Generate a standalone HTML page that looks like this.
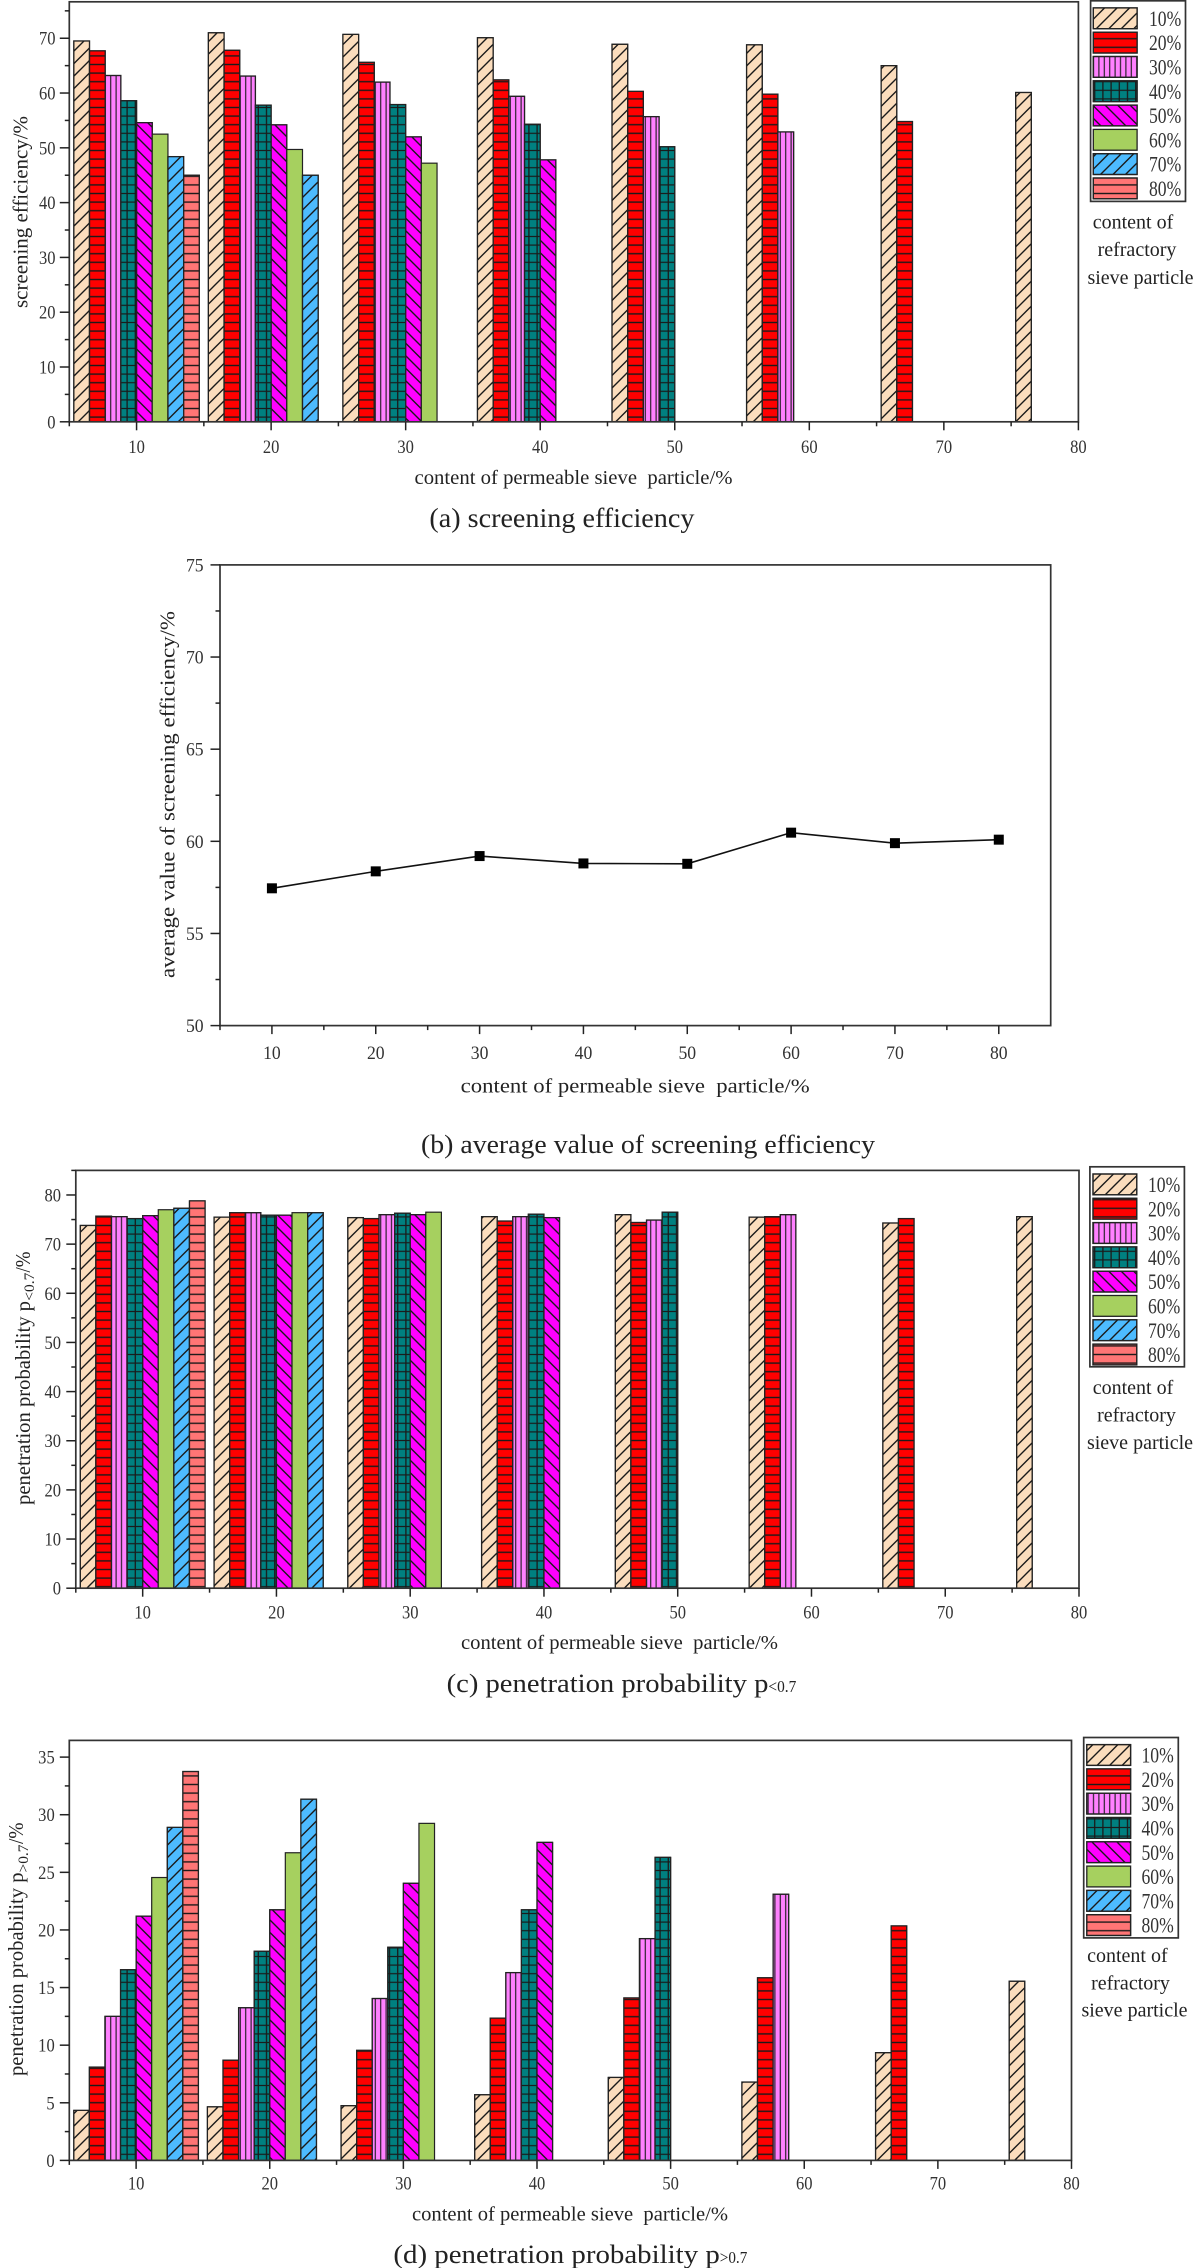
<!DOCTYPE html>
<html lang="en">
<head>
<meta charset="utf-8">
<title>Screening efficiency and penetration probability charts</title>
<style>
html,body{margin:0;padding:0;background:#fff;width:1200px;height:2268px;overflow:hidden}
svg{display:block}
text{font-family:"Liberation Serif","Noto Serif CJK SC",serif;fill:#222;white-space:pre}
.tick{fill:#333}
</style>
</head>
<body>
<svg id="figure" xmlns="http://www.w3.org/2000/svg" width="1200" height="2268" viewBox="0 0 1200 2268">
<defs>
<pattern id="slash" patternUnits="userSpaceOnUse" width="12.5" height="12.5"><path d="M-2,2L2,-2M0,12.5L12.5,0M10.5,14.5L14.5,10.5" stroke="#1a1a1a" stroke-width="1.4" fill="none"/></pattern>
<pattern id="back" patternUnits="userSpaceOnUse" width="12.5" height="12.5"><path d="M-2,10.5L2,14.5M0,0L12.5,12.5M10.5,-2L14.5,2" stroke="#1a1a1a" stroke-width="1.4" fill="none"/></pattern>
<pattern id="hlines" patternUnits="userSpaceOnUse" width="8.6" height="8.6"><path d="M0,4.3H8.6" stroke="#1a1a1a" stroke-width="1.4" fill="none"/></pattern>
<pattern id="vlines" patternUnits="userSpaceOnUse" width="5.4" height="5.4"><path d="M2.7,0V5.4" stroke="#1a1a1a" stroke-width="1.1" fill="none"/></pattern>
<pattern id="grid" patternUnits="userSpaceOnUse" width="8.2" height="8.6"><path d="M0,4.3H8.2M4.1,0V8.6" stroke="#1a1a1a" stroke-width="1.3" fill="none"/></pattern>
</defs>

<g id="chart-a"></g>
<g id="chart-b"></g>
<g id="chart-c"></g>
<g id="chart-d"></g>

<text transform="translate(27.5,308) rotate(-90)" font-size="21" textLength="192" lengthAdjust="spacingAndGlyphs">screening efficiency/%</text>
<text x="414.5" y="484" font-size="20" textLength="318" lengthAdjust="spacingAndGlyphs">content of permeable sieve  particle/%</text>
<text x="429.4" y="526.8" font-size="27" textLength="265" lengthAdjust="spacingAndGlyphs">(a) screening efficiency</text>
<text x="1133" y="228.6" font-size="20" text-anchor="middle">content of</text>
<text x="1137" y="256" font-size="20" text-anchor="middle">refractory</text>
<text x="1140.5" y="284" font-size="20" text-anchor="middle">sieve particle</text>

<text transform="translate(174.5,978) rotate(-90)" font-size="21" textLength="367" lengthAdjust="spacingAndGlyphs">average value of screening efficiency/%</text>
<text x="460.7" y="1092.4" font-size="20" textLength="349" lengthAdjust="spacingAndGlyphs">content of permeable sieve  particle/%</text>
<text x="421" y="1152.9" font-size="26" textLength="454" lengthAdjust="spacingAndGlyphs">(b) average value of screening efficiency</text>

<text transform="translate(30,1505) rotate(-90)" font-size="21" textLength="204" lengthAdjust="spacingAndGlyphs">penetration probability p</text>
<text transform="translate(34,1300.7) rotate(-90)" font-size="15" textLength="28" lengthAdjust="spacingAndGlyphs">&lt;0.7</text>
<text transform="translate(30,1272.5) rotate(-90)" font-size="21" textLength="21" lengthAdjust="spacingAndGlyphs">/%</text>
<text x="461" y="1649" font-size="20" textLength="317" lengthAdjust="spacingAndGlyphs">content of permeable sieve  particle/%</text>
<text x="446.6" y="1691.8" font-size="26" textLength="321.8" lengthAdjust="spacingAndGlyphs">(c) penetration probability p</text>
<text x="768.4" y="1691.8" font-size="17" textLength="27.9" lengthAdjust="spacingAndGlyphs">&lt;0.7</text>
<text x="1133" y="1394" font-size="20" text-anchor="middle">content of</text>
<text x="1136.5" y="1421.4" font-size="20" text-anchor="middle">refractory</text>
<text x="1140" y="1449" font-size="20" text-anchor="middle">sieve particle</text>

<text transform="translate(23,2076) rotate(-90)" font-size="21" textLength="203.5" lengthAdjust="spacingAndGlyphs">penetration probability p</text>
<text transform="translate(28,1872.5) rotate(-90)" font-size="15" textLength="28" lengthAdjust="spacingAndGlyphs">&gt;0.7</text>
<text transform="translate(23,1844) rotate(-90)" font-size="21" textLength="21.5" lengthAdjust="spacingAndGlyphs">/%</text>
<text x="412" y="2220.7" font-size="20" textLength="316" lengthAdjust="spacingAndGlyphs">content of permeable sieve  particle/%</text>
<text x="393.4" y="2262.9" font-size="26" textLength="326.4" lengthAdjust="spacingAndGlyphs">(d) penetration probability p</text>
<text x="719.8" y="2262.9" font-size="17" textLength="27.5" lengthAdjust="spacingAndGlyphs">&gt;0.7</text>
<text x="1127.4" y="1961.8" font-size="20" text-anchor="middle">content of</text>
<text x="1130.5" y="1989.3" font-size="20" text-anchor="middle">refractory</text>
<text x="1134.5" y="2016.4" font-size="20" text-anchor="middle">sieve particle</text>
</svg>

<script>
// ---------- data ----------
const categories = [10, 20, 30, 40, 50, 60, 70, 80];
const seriesNames = ['10%', '20%', '30%', '40%', '50%', '60%', '70%', '80%'];
const seriesColors = ['#FBDDBD', '#FF0000', '#FF80FF', '#008080', '#FF00FF', '#A6D05F', '#4DBBFF', '#FF7575'];
const seriesHatches = ['slash', 'hlines', 'vlines', 'grid', 'back', '', 'slash', 'hlines'];

const screening10 = [69.5, 71.0, 70.7, 70.1, 68.9, 68.8, 65.0, 60.1];
const screening20 = [67.7, 67.8, 65.6, 62.4, 60.3, 59.8, 54.8];
const screening30 = [63.2, 63.1, 62.0, 59.4, 55.7, 52.9];
const screening40 = [58.6, 57.8, 57.9, 54.3, 50.2];
const screening50 = [54.6, 54.2, 52.0, 47.8];
const screening60 = [52.5, 49.7, 47.2];
const screening70 = [48.4, 45.0];
const screening80 = [45.0];

const averageEfficiency = [57.45, 58.37, 59.2, 58.8, 58.78, 60.47, 59.9, 60.09];

const below10 = [73.8, 75.5, 75.4, 75.6, 76.0, 75.5, 74.3, 75.6];
const below20 = [75.7, 76.4, 75.2, 74.7, 74.4, 75.6, 75.2];
const below30 = [75.6, 76.4, 76.0, 75.6, 74.9, 76.0];
const below40 = [75.2, 75.9, 76.3, 76.1, 76.5];
const below50 = [75.8, 75.9, 76.0, 75.4];
const below60 = [77.0, 76.4, 76.5];
const below70 = [77.3, 76.4];
const below80 = [78.8];

const above10 = [4.34, 4.65, 4.75, 5.7, 7.2, 6.8, 9.35, 15.55];
const above20 = [8.1, 8.7, 9.55, 12.35, 14.1, 15.85, 20.35];
const above30 = [12.5, 13.25, 14.05, 16.3, 19.25, 23.1];
const above40 = [16.55, 18.15, 18.5, 21.75, 26.3];
const above50 = [21.2, 21.75, 24.05, 27.6];
const above60 = [24.55, 26.7, 29.25];
const above70 = [28.9, 31.35];
const above80 = [33.75];

const xTickValues = [10, 20, 30, 40, 50, 60, 70, 80];
const yTicksA = [0, 10, 20, 30, 40, 50, 60, 70];
const yTicksB = [50, 55, 60, 65, 70, 75];
const yTicksC = [0, 10, 20, 30, 40, 50, 60, 70, 80];
const yTicksD = [0, 5, 10, 15, 20, 25, 30, 35];

// ---------- helpers ----------
const NS = 'http://www.w3.org/2000/svg';
function mk(tag, attrs, parent) {
  const n = document.createElementNS(NS, tag);
  for (const k in attrs) n.setAttribute(k, attrs[k]);
  parent.appendChild(n);
  return n;
}

function drawFrame(c, g, xs, ys) {
  const frame = mk('rect', {x: c.left, y: c.top, width: c.right - c.left, height: c.bottom - c.top, fill: 'none', stroke: '#333', 'stroke-width': 1.7}, g);
  
  

  c.xTicks.forEach(v => {
    const t = mk('line', {x1: xs(v), x2: xs(v), y1: c.bottom, y2: c.bottom + 8.5, stroke: '#222', 'stroke-width': 1.5}, g);
    
    
    const m = mk('line', {x1: xs(v - 5), x2: xs(v - 5), y1: c.bottom, y2: c.bottom + 4.5, stroke: '#222', 'stroke-width': 1.5}, g);
    
    
    const l = mk('text', {class: 'tick', 'font-size': 19, 'text-anchor': 'middle', transform: 'translate(' + xs(v) + ',' + c.xLabelY + ') scale(' + c.tickScale + ',1)'}, g);
    l.textContent = String(v);
    
    
  });

  c.yTicks.forEach((v, i) => {
    const t = mk('line', {x1: c.left - 9.5, x2: c.left, y1: ys(v), y2: ys(v), stroke: '#222', 'stroke-width': 1.5}, g);
    
    
    const l = mk('text', {class: 'tick', 'font-size': 19, 'text-anchor': 'end', transform: 'translate(' + c.yLabelX + ',' + (ys(v) + 6.5) + ') scale(' + c.tickScale + ',1)'}, g);
    l.textContent = String(v);
    
    
    const mv = v + (c.yTicks[1] - c.yTicks[0]) / 2;
    if (mv <= c.yMax) {
      const m = mk('line', {x1: c.left - 4.5, x2: c.left, y1: ys(mv), y2: ys(mv), stroke: '#222', 'stroke-width': 1.5}, g);
      
      
    }
  });
}

function makeScales(c) {
  const xs = v => c.left + (v - 5) * (c.right - c.left) / (c.xMax - 5);
  const ys = v => c.bottom - (v - c.yMin) * (c.bottom - c.top) / (c.yMax - c.yMin);
  return [xs, ys];
}

function drawBars(c, series) {
  const g = document.getElementById(c.id);
  const [xs, ys] = makeScales(c);
  const slot = 1.166;
  const bw = xs(5 + slot) - xs(5);
  series.forEach((values, s) => {
    values.forEach((v, i) => {
      const x = xs(categories[i] + (s - 4) * slot);
      const y = ys(v);
      const h = ys(0) - y;
      const b = mk('rect', {x: x, y: y, width: bw, height: h, fill: seriesColors[s], stroke: '#222', 'stroke-width': 1.2}, g);
      
      
      if (seriesHatches[s]) {
        const hatch = mk('rect', {x: x, y: y, width: bw, height: h, fill: 'url(#' + seriesHatches[s] + ')', stroke: '#222', 'stroke-width': 1.2}, g);
        
        
      }
    });
  });
  drawFrame(c, g, xs, ys);
  drawLegend(c, g);
}

function drawLegend(c, g) {
  const L = c.legend;
  const box = mk('rect', {x: L.x, y: L.y, width: L.w, height: L.h, fill: '#fff', stroke: '#333', 'stroke-width': 1.7}, g);
  
  
  seriesNames.forEach((name, s) => {
    const y = L.rowY + s * 24.3;
    const sw = mk('rect', {x: L.swX, y: y, width: 43.8, height: 20.8, fill: seriesColors[s], stroke: '#222', 'stroke-width': 1.3}, g);
    
    
    if (seriesHatches[s]) {
      const h = mk('rect', {x: L.swX, y: y, width: 43.8, height: 20.8, fill: 'url(#' + seriesHatches[s] + ')', stroke: '#222', 'stroke-width': 1.3}, g);
      
      
    }
    const t = mk('text', {class: 'tick', 'font-size': 22, transform: 'translate(' + L.labelX + ',' + (y + 18) + ') scale(0.8,1)'}, g);
    t.textContent = name;
    
    
  });
}

function drawLine(c, values) {
  const g = document.getElementById(c.id);
  const [xs, ys] = makeScales(c);
  drawFrame(c, g, xs, ys);
  const pts = values.map((v, i) => xs(categories[i]) + ',' + ys(v)).join(' ');
  const line = mk('polyline', {points: pts, fill: 'none', stroke: '#111', 'stroke-width': 1.6}, g);
  
  
  values.forEach((v, i) => {
    const p = mk('rect', {x: xs(categories[i]) - 5, y: ys(v) - 5, width: 10, height: 10, fill: '#000'}, g);
    
    
  });
}

// ---------- charts ----------
drawBars({id: 'chart-a', left: 69.3, right: 1078.4, top: 1.8, bottom: 421.8, xMax: 80, yMin: 0, yMax: 76.65,
  xTicks: xTickValues, yTicks: yTicksA, xLabelY: 452.9, yLabelX: 55.5, tickScale: 0.87,
  legend: {x: 1090.6, y: 0.8, w: 94.9, h: 200.6, swX: 1093.3, rowY: 7.9, labelX: 1149}},
  [screening10, screening20, screening30, screening40, screening50, screening60, screening70, screening80]);

drawLine({id: 'chart-b', left: 220, right: 1050.7, top: 564.9, bottom: 1025.6, xMax: 85, yMin: 50, yMax: 75,
  xTicks: xTickValues, yTicks: yTicksB, xLabelY: 1058.8, yLabelX: 203.6, tickScale: 0.93}, averageEfficiency);

drawBars({id: 'chart-c', left: 75.8, right: 1079, top: 1170.4, bottom: 1588.2, xMax: 80, yMin: 0, yMax: 85,
  xTicks: xTickValues, yTicks: yTicksC, xLabelY: 1618.6, yLabelX: 61, tickScale: 0.87,
  legend: {x: 1089.9, y: 1166.8, w: 94.5, h: 200, swX: 1093, rowY: 1174, labelX: 1148}},
  [below10, below20, below30, below40, below50, below60, below70, below80]);

drawBars({id: 'chart-d', left: 69.3, right: 1071.5, top: 1740.4, bottom: 2160.4, xMax: 80, yMin: 0, yMax: 36.45,
  xTicks: xTickValues, yTicks: yTicksD, xLabelY: 2189.6, yLabelX: 54.7, tickScale: 0.87,
  legend: {x: 1083.7, y: 1737.5, w: 94.6, h: 200.4, swX: 1086.8, rowY: 1744.6, labelX: 1141.5}},
  [above10, above20, above30, above40, above50, above60, above70, above80]);
</script>
</body>
</html>
